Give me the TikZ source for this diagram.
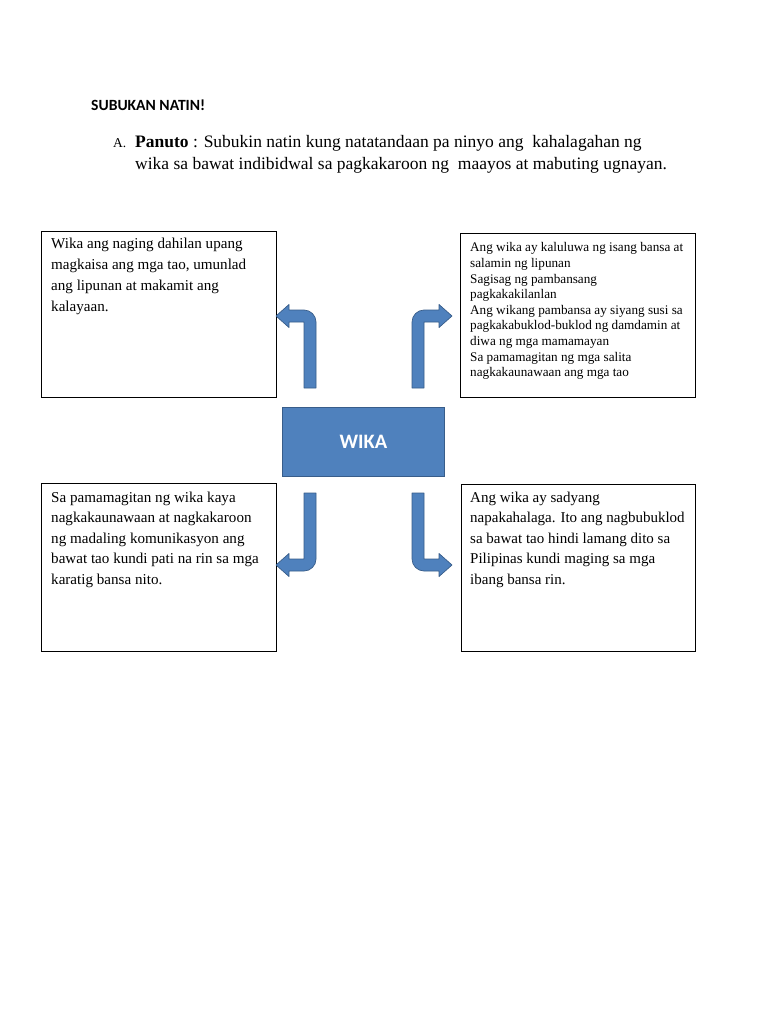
\documentclass[tikz,border=0pt]{standalone}
\usepackage{fontspec}
\setmainfont{Liberation Serif}
\newfontfamily\calibri{Carlito}
\definecolor{wikafill}{HTML}{4F81BD}
\definecolor{wikaedge}{HTML}{385D8A}
\tikzset{
  textbox/.style={draw=black, line width=0.8pt, inner sep=0pt, anchor=north west},
  boxtext/.style={anchor=north west, inner sep=0pt, align=left, font=\fontsize{15.1}{20.5}\selectfont},
  smalltext/.style={anchor=north west, inner sep=0pt, align=left, font=\fontsize{13.2}{15.6}\selectfont},
  bentarrow/.style={fill=wikafill, draw=wikaedge, line width=0.7pt, line join=round},
}
\begin{document}
\begin{tikzpicture}[x=1pt,y=-1pt]
\useasboundingbox (0,0) rectangle (768,1024);
\fill[white] (0,0) rectangle (768,1024);

% header
\node[anchor=base west, inner sep=0pt, font=\calibri\bfseries\fontsize{15.6}{18}\selectfont] (title) at (91,111) {SUBUKAN NATIN!};
\node[anchor=base west, inner sep=0pt, font=\fontsize{13.5}{16}\selectfont] (lbl) at (113,148) {A.};
\node[anchor=base west, inner sep=0pt, font=\fontsize{17.5}{21}\selectfont] (p1) at (135,148) {\textbf{Panuto} : Subukin natin kung natatandaan pa ninyo ang\ \ kahalagahan ng};
\node[anchor=base west, inner sep=0pt, font=\fontsize{17.5}{21}\selectfont] (p2) at (135,170) {wika sa bawat indibidwal sa pagkakaroon ng\ \ maayos at mabuting ugnayan.};

% boxes
\node[textbox, minimum width=235pt, minimum height=166pt] (tl) at (41,231) {};
\node[textbox, minimum width=235pt, minimum height=164pt] (tr) at (460,233) {};
\node[textbox, minimum width=235pt, minimum height=168pt] (bl) at (41,483) {};
\node[textbox, minimum width=234pt, minimum height=167pt] (br) at (461,484) {};

\node[boxtext, font=\fontsize{15.1}{21}\selectfont] (tlt) at ([xshift=10pt,yshift=-7pt]tl.north west)
 {Wika ang naging dahilan upang\\magkaisa ang mga tao, umunlad\\ang lipunan at makamit ang\\kalayaan.};
\node[smalltext] (trt) at ([xshift=10pt,yshift=-9.5pt]tr.north west)
 {Ang wika ay kaluluwa ng isang bansa at\\salamin ng lipunan\\Sagisag ng pambansang\\pagkakakilanlan\\Ang wikang pambansa ay siyang susi sa\\pagkakabuklod-buklod ng damdamin at\\diwa ng mga mamamayan\\Sa pamamagitan ng mga salita\\nagkakaunawaan ang mga tao};
\node[boxtext] (blt) at ([xshift=10pt,yshift=-8.5pt]bl.north west)
 {Sa pamamagitan ng wika kaya\\nagkakaunawaan at nagkakaroon\\ng madaling komunikasyon ang\\bawat tao kundi pati na rin sa mga\\karatig bansa nito.};
\node[boxtext, font=\fontsize{15}{20.5}\selectfont] (brt) at ([xshift=9pt,yshift=-7.5pt]br.north west)
 {Ang wika ay sadyang\\napakahalaga. Ito ang nagbubuklod\\sa bawat tao hindi lamang dito sa\\Pilipinas kundi maging sa mga\\ibang bansa rin.};

% center
\node[fill=wikafill, draw=wikaedge, line width=0.8pt, anchor=north west, minimum width=162pt, minimum height=69pt, inner sep=0pt] (wika) at (282,407) {};
\node[text=white, font=\calibri\bfseries\fontsize{20.5}{24}\selectfont, inner sep=0pt, anchor=base] (wt) at (wika.center |- 0,448) {WIKA};

% bent arrows
\newcommand{\bentpath}{(304,388) -- (316,388) -- (316,322) .. controls (316,315.4) and (310.6,310) .. (304,310) -- (289,310) -- (289,304.5) -- (276,316) -- (289,327.5) -- (289,322) -- (304,322) -- cycle}
\draw[bentarrow] \bentpath;
\begin{scope}[shift={(728,0)}, xscale=-1]
\draw[bentarrow] \bentpath;
\end{scope}
\begin{scope}[shift={(0,881)}, yscale=-1]
\draw[bentarrow] \bentpath;
\end{scope}
\begin{scope}[shift={(728,881)}, xscale=-1, yscale=-1]
\draw[bentarrow] \bentpath;
\end{scope}
\end{tikzpicture}
\end{document}
